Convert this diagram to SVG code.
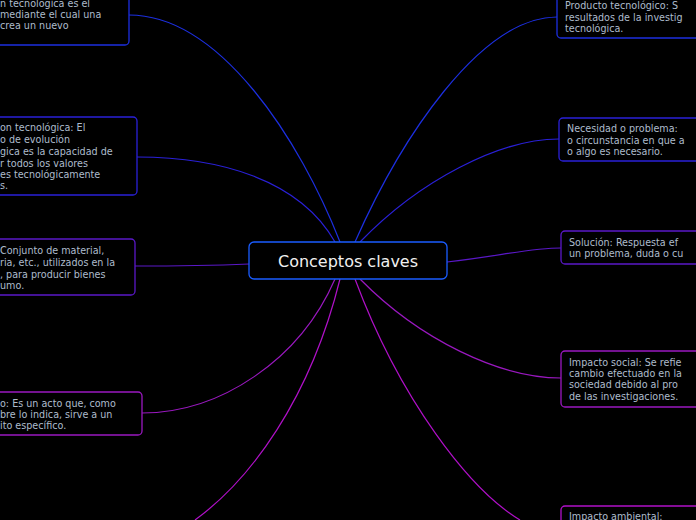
<svg xmlns="http://www.w3.org/2000/svg" width="696" height="520" viewBox="0 0 696 520">
<style>
.t{font-family:"DejaVu Sans",sans-serif;font-size:9.6px;fill:#aebccc}
.n{fill:#000;stroke-width:1.3}
.c{fill:none;stroke-width:1.2}
</style>
<rect width="696" height="520" fill="#000"/>
<g id="connectors">
<path class="c" stroke="#1c2fe0" d="M340,242 C300,140 220,15 129,15"/>
<path class="c" stroke="#2a20d8" d="M335,242 C300,180 220,157 137,157"/>
<path class="c" stroke="#5a18c8" d="M249,264 C200,266 170,266 135,266"/>
<path class="c" stroke="#9a18c0" d="M335,279 C300,360 220,413 142,413"/>
<path class="c" stroke="#b010c8" d="M340,279 C310,400 250,480 195,520"/>
<path class="c" stroke="#1c2fe0" d="M355,242 C400,140 480,17 557,17"/>
<path class="c" stroke="#2a20d8" d="M360,242 C420,180 500,139 559,139"/>
<path class="c" stroke="#5a18c8" d="M447,262 C500,256 530,248 561,248"/>
<path class="c" stroke="#9a18c0" d="M360,279 C420,340 500,378 561,378"/>
<path class="c" stroke="#b010c8" d="M355,279 C400,400 470,490 520,520"/>
</g>
<g id="center"><rect class="n" x="249" y="242" width="198" height="37" rx="5" stroke="#1a5cff"/><text x="348" y="267" text-anchor="middle" font-family="DejaVu Sans,sans-serif" font-size="16" fill="#f0f0f0">Conceptos claves</text></g>
<g id="n1"><rect class="n" x="-10" y="-10" width="139" height="55" rx="4" stroke="#1c2fe0"/><text class="t" x="0" y="7">n tecnológica es el</text><text class="t" x="0" y="18">mediante el cual una</text><text class="t" x="0" y="29">crea un nuevo</text></g>
<g id="n2"><rect class="n" x="-10" y="117" width="147" height="78" rx="4" stroke="#2a20d8"/><text class="t" x="0" y="131">on tecnológica: El</text><text class="t" x="0" y="143">o de evolución</text><text class="t" x="0" y="155">gica es la capacidad de</text><text class="t" x="0" y="167">r todos los valores</text><text class="t" x="0" y="178">es tecnológicamente</text><text class="t" x="0" y="189">s.</text></g>
<g id="n3"><rect class="n" x="-10" y="239" width="145" height="56" rx="4" stroke="#5a18c8"/><text class="t" x="0" y="254">Conjunto de material,</text><text class="t" x="0" y="266">ria, etc., utilizados en la</text><text class="t" x="0" y="278">, para producir bienes</text><text class="t" x="0" y="289">umo.</text></g>
<g id="n4"><rect class="n" x="-10" y="392" width="152" height="43" rx="4" stroke="#9a18c0"/><text class="t" x="0" y="407">o: Es un acto que, como</text><text class="t" x="0" y="418">bre lo indica, sirve a un</text><text class="t" x="0" y="429">ito específico.</text></g>
<g id="n5"><rect class="n" x="557" y="-5" width="150" height="43" rx="4" stroke="#1c2fe0"/><text class="t" x="565" y="9">Producto tecnológico: S</text><text class="t" x="565" y="21">resultados de la investig</text><text class="t" x="565" y="32">tecnológica.</text></g>
<g id="n6"><rect class="n" x="559" y="118" width="150" height="43" rx="4" stroke="#2a20d8"/><text class="t" x="567" y="132">Necesidad o problema:</text><text class="t" x="567" y="144">o circunstancia en que a</text><text class="t" x="567" y="155">o algo es necesario.</text></g>
<g id="n7"><rect class="n" x="561" y="231" width="150" height="33" rx="4" stroke="#5a18c8"/><text class="t" x="569" y="246">Solución: Respuesta ef</text><text class="t" x="569" y="257">un problema, duda o cu</text></g>
<g id="n8"><rect class="n" x="561" y="351" width="150" height="56" rx="4" stroke="#9a18c0"/><text class="t" x="569" y="366">Impacto social: Se refie</text><text class="t" x="569" y="377">cambio efectuado en la</text><text class="t" x="569" y="388">sociedad debido al pro</text><text class="t" x="569" y="400">de las investigaciones.</text></g>
<g id="n9"><rect class="n" x="561" y="506" width="150" height="30" rx="4" stroke="#b010c8"/><text class="t" x="569" y="520">Impacto ambiental:</text></g>
</svg>
